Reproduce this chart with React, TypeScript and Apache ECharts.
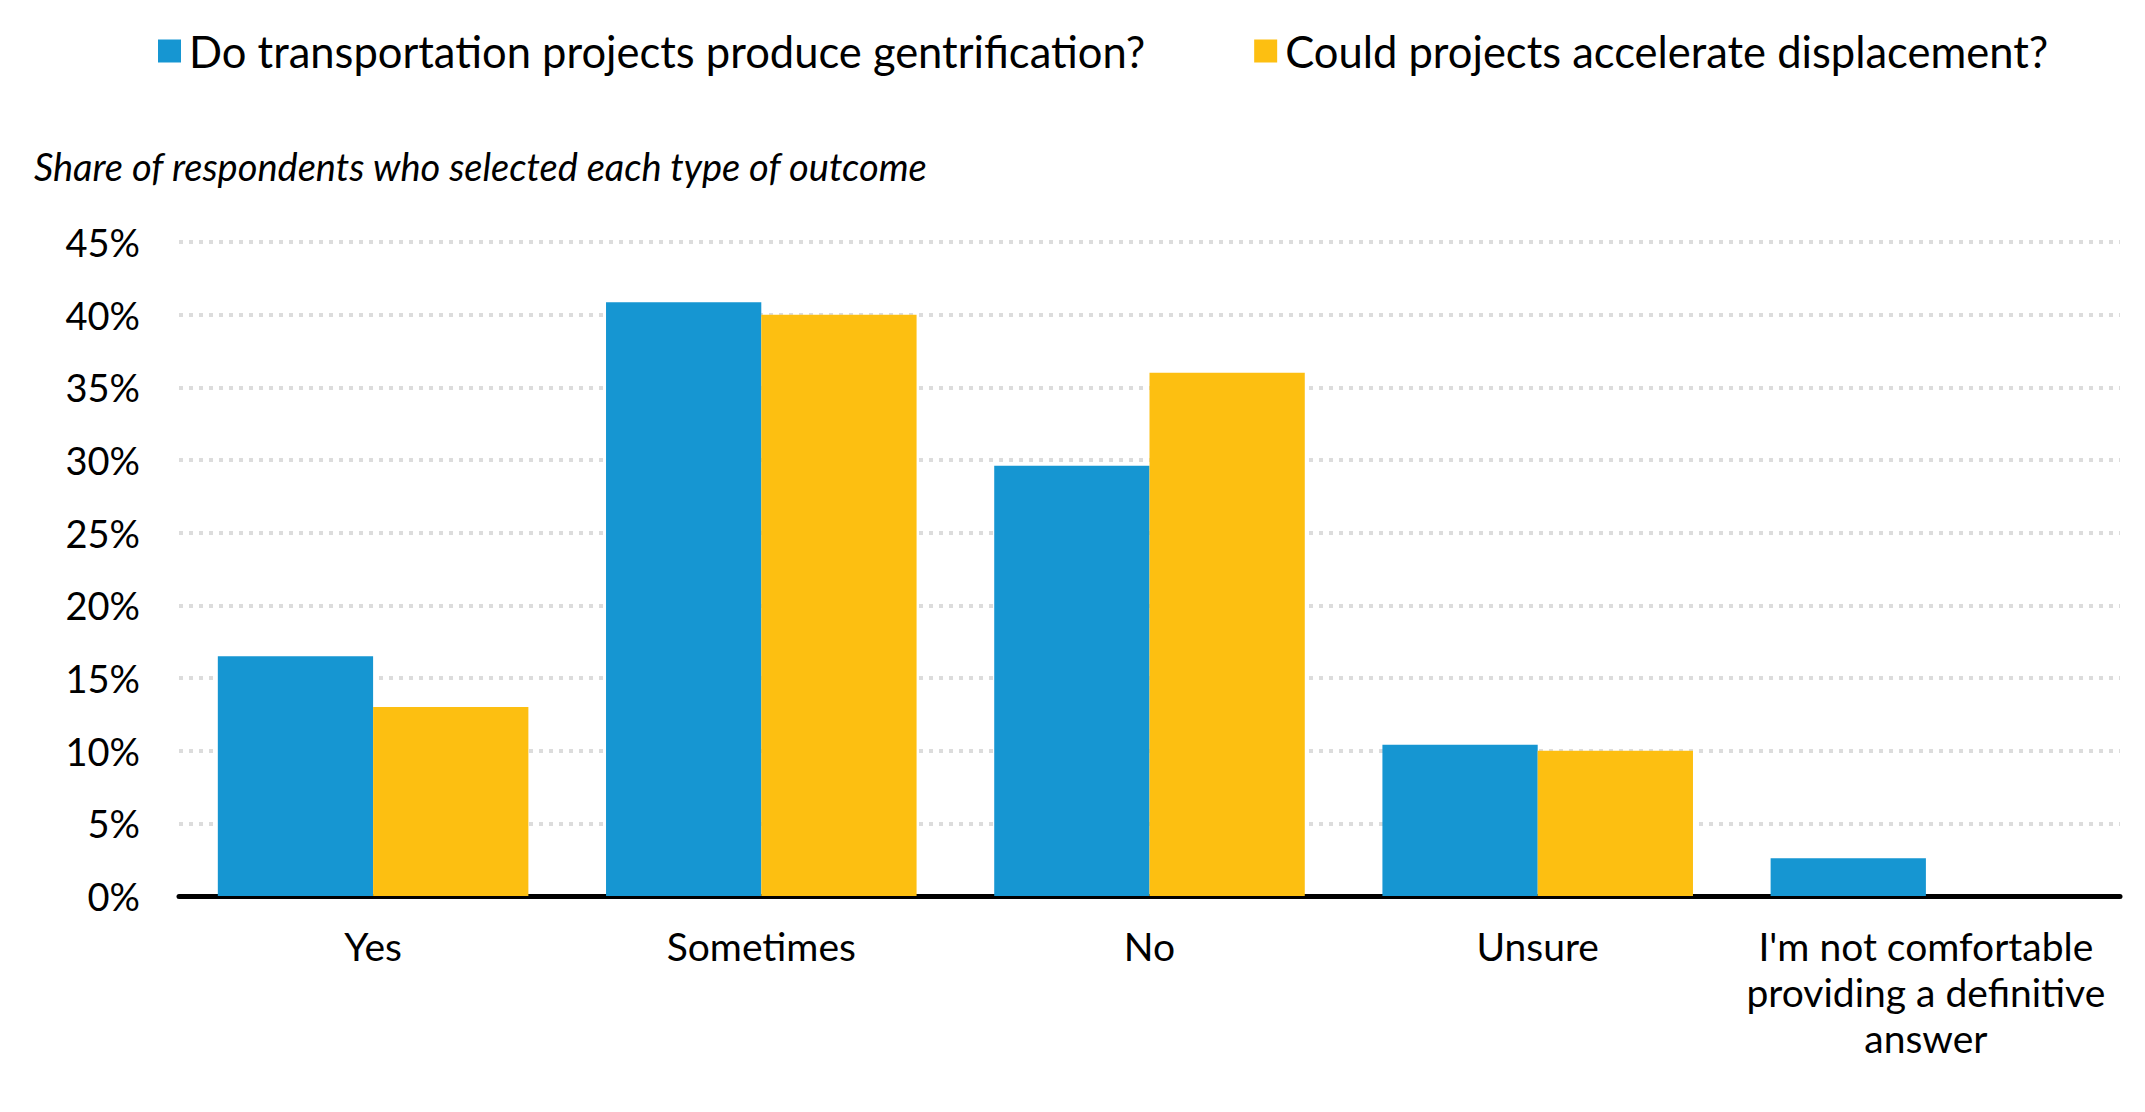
import React, { useEffect, useRef } from "react";
import * as echarts from "echarts";

const categories = [
  "Yes",
  "Sometimes",
  "No",
  "Unsure",
  "I'm not comfortable\nproviding a definitive\nanswer",
];
const seriesNames = [
  "Do transportation projects produce gentrification?",
  "Could projects accelerate displacement?",
];
const gentrification = [16.5, 40.85, 29.6, 10.4, 2.6];
const displacement = [13.0, 40.0, 36.0, 10.0, 0];
const subtitle = "Share of respondents who selected each type of outcome";
const yMin = 0;
const yMax = 45;
const yStep = 5;

const FONT = "Lato, 'Noto Sans', sans-serif";

export default function App() {
  const ref = useRef<HTMLDivElement>(null);
  useEffect(() => {
    document.body.style.margin = "0";
    if (!ref.current) return;
    const chart = echarts.init(ref.current, undefined, { renderer: "svg" });
    chart.setOption({
      animation: false,
      backgroundColor: "#ffffff",
      color: ["#1696d2", "#fdbf11"],
      title: {
        text: subtitle,
        left: 29,
        top: 138,
        textStyle: {
          fontFamily: FONT,
          fontStyle: "italic",
          fontWeight: "normal",
          fontSize: 38,
          lineHeight: 46,
          color: "#000",
        },
      },
      legend: {
        top: 21,
        left: 153,
        icon: "rect",
        itemWidth: 23,
        itemHeight: 23,
        itemGap: 109,
        data: seriesNames,
        textStyle: {
          fontFamily: FONT,
          fontSize: 43.5,
          lineHeight: 50,
          color: "#000",
          padding: [0, 0, 0, 3],
        },
      },
      grid: {
        left: 179,
        right: 25,
        top: 242,
        bottom: 216,
        containLabel: false,
      },
      xAxis: {
        type: "category",
        data: categories,
        axisTick: { show: false },
        axisLine: { lineStyle: { color: "#000", width: 5 } },
        axisLabel: {
          interval: 0,
          margin: 27,
          fontFamily: FONT,
          fontSize: 39,
          lineHeight: 46,
          color: "#000",
          align: "center",
        },
      },
      yAxis: {
        type: "value",
        min: yMin,
        max: yMax,
        interval: yStep,
        axisLine: { show: false },
        axisTick: { show: false },
        splitLine: {
          lineStyle: { color: "#dcdcdc", width: 4, type: [4, 6] },
        },
        axisLabel: {
          margin: 39,
          formatter: "{value}%",
          fontFamily: FONT,
          fontSize: 38,
          color: "#000",
        },
      },
      series: [
        {
          name: seriesNames[0],
          type: "bar",
          data: gentrification,
          barGap: "0%",
          barCategoryGap: "20%",
        },
        {
          name: seriesNames[1],
          type: "bar",
          data: displacement,
          barGap: "0%",
          barCategoryGap: "20%",
        },
      ],
    });
    return () => chart.dispose();
  }, []);
  return <div ref={ref} style={{ width: 2145, height: 1112, overflow: "hidden" }} />;
}
